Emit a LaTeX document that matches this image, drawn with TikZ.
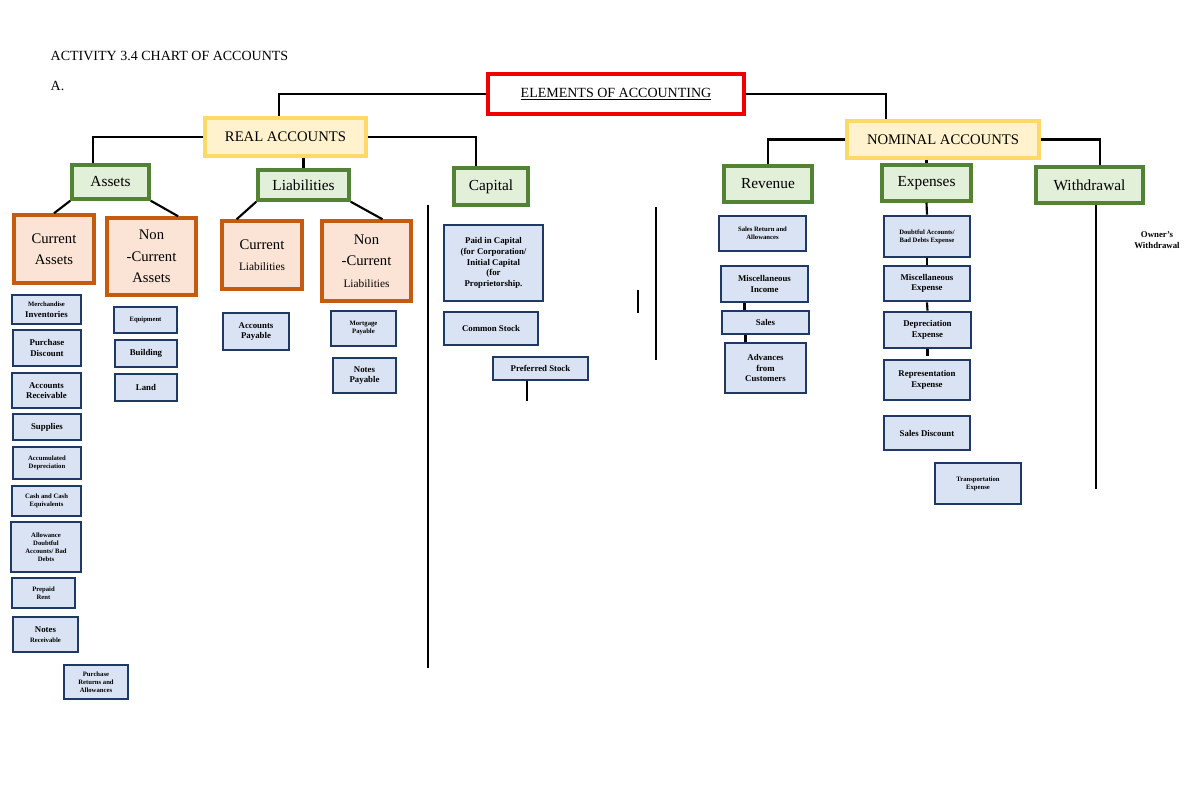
\documentclass[tikz,border=0pt]{standalone}
\usepackage{fontspec}
\setmainfont{Liberation Serif}
\definecolor{bbd}{HTML}{1F3864}\definecolor{bbf}{HTML}{DAE3F3}
\definecolor{gbd}{HTML}{548235}\definecolor{gbf}{HTML}{E2EFD9}
\definecolor{obd}{HTML}{C55A11}\definecolor{obf}{HTML}{FBE4D5}
\definecolor{ybd}{HTML}{FFD966}\definecolor{ybf}{HTML}{FFF2CC}
\begin{document}
\begin{tikzpicture}[x=0.75pt,y=-0.75pt,
  ln/.style={line width=1.6pt},
  redb/.style={draw=red!95!black,line width=2.6pt,fill=white,font=\fontsize{10.5}{12}\selectfont},
  yelb/.style={draw=ybd,line width=2.6pt,fill=ybf,font=\fontsize{11}{13}\selectfont},
  grnb/.style={draw=gbd,line width=2.6pt,fill=gbf,font=\fontsize{11.5}{13}\selectfont},
  orb/.style={draw=obd,line width=2.6pt,fill=obf,font=\fontsize{11}{16}\selectfont,align=center},
  blb/.style={draw=bbd,line width=2pt,fill=bbf,font=\fontsize{6.6}{8}\selectfont\bfseries,align=center,inner sep=1pt},
  sml/.style={blb,font=\fontsize{5}{6}\selectfont\bfseries}]
\useasboundingbox (0,0) rectangle (1200,785);
\newcommand\bx[7]{\pgfmathsetmacro\bw{(#4-#2)*0.75}\pgfmathsetmacro\bh{(#5-#3)*0.75}%
  \node[#6,minimum width=\bw pt,minimum height=\bh pt] (#1) at ({(#2+#4)/2},{(#3+#5)/2}) {#7};}
\node[anchor=west,font=\fontsize{10.5}{12}\selectfont] (t) at (46,56) {ACTIVITY 3.4 CHART OF ACCOUNTS};
\node[anchor=west,font=\fontsize{10.5}{12}\selectfont] (a) at (46,86) {A.};
\bx{E}{488}{74}{744}{114}{redb}{\underline{ELEMENTS OF ACCOUNTING}}
\bx{R}{205}{118}{366}{156}{yelb}{REAL ACCOUNTS}
\bx{N}{847}{121}{1039}{158}{yelb}{NOMINAL ACCOUNTS}
\bx{As}{72}{165}{149}{199}{grnb}{Assets}
\bx{Li}{258}{170}{349}{200}{grnb}{Liabilities}
\bx{Ca}{454}{168}{528}{205}{grnb}{Capital}
\bx{Re}{724}{166}{812}{202}{grnb}{Revenue}
\bx{Ex}{882}{165}{971}{201}{grnb}{Expenses}
\bx{Wi}{1036}{167}{1143}{203}{grnb}{Withdrawal}
\bx{CA}{14}{215}{94}{283}{orb}{Current\\Assets}
\bx{NA}{107}{218}{196}{295}{orb}{Non\\-Current\\Assets}
\bx{CL}{222}{221}{302}{289}{orb}{Current\\{\fontsize{8.5}{16}\selectfont Liabilities}}
\bx{NL}{322}{221}{411}{301}{orb}{Non\\-Current\\{\fontsize{8.5}{16}\selectfont Liabilities}}
\bx{b1}{12}{295}{81}{324}{blb}{{\fontsize{5}{6}\selectfont Merchandise}\\Inventories}
\bx{b2}{13}{330}{81}{366}{blb}{Purchase\\Discount}
\bx{b3}{12}{373}{81}{408}{blb}{Accounts\\Receivable}
\bx{b4}{13}{414}{81}{440}{blb}{Supplies}
\bx{b5}{13}{447}{81}{479}{sml}{Accumulated\\Depreciation}
\bx{b6}{12}{486}{81}{516}{sml}{Cash and Cash\\Equivalents}
\bx{b7}{11}{522}{81}{572}{sml}{Allowance\\Doubtful\\Accounts/ Bad\\Debts}
\bx{b8}{12}{578}{75}{608}{sml}{Prepaid\\Rent}
\bx{b9}{13}{617}{78}{652}{blb}{Notes\\{\fontsize{5}{6}\selectfont Receivable}}
\bx{b10}{64}{665}{128}{699}{sml}{Purchase\\Returns and\\Allowances}
\bx{e1}{114}{307}{177}{333}{sml}{Equipment}
\bx{e2}{115}{340}{177}{367}{blb}{Building}
\bx{e3}{115}{374}{177}{401}{blb}{Land}
\bx{l1}{223}{313}{289}{350}{blb}{Accounts\\Payable}
\bx{l2}{331}{311}{396}{346}{sml}{Mortgage\\Payable}
\bx{l3}{333}{358}{396}{393}{blb}{Notes\\Payable}
\bx{c1}{444}{225}{543}{301}{blb}{Paid in Capital\\(for Corporation/\\Initial Capital\\(for\\Proprietorship.}
\bx{c2}{444}{312}{538}{345}{blb}{Common Stock}
\bx{c3}{493}{357}{588}{380}{blb}{Preferred Stock}
\bx{r1}{719}{216}{806}{251}{sml}{Sales Return and\\Allowances}
\bx{r2}{721}{266}{808}{302}{blb}{Miscellaneous\\Income}
\bx{r3}{722}{311}{809}{334}{blb}{Sales}
\bx{r4}{725}{343}{806}{393}{blb}{Advances\\from\\Customers}
\bx{x1}{884}{216}{970}{257}{sml}{Doubtful Accounts/\\Bad Debts Expense}
\bx{x2}{884}{266}{970}{301}{blb}{Miscellaneous\\Expense}
\bx{x3}{884}{312}{971}{348}{blb}{Depreciation\\Expense}
\bx{x4}{884}{360}{970}{400}{blb}{Representation\\Expense}
\bx{x5}{884}{416}{970}{450}{blb}{Sales Discount}
\bx{x6}{935}{463}{1021}{504}{sml}{Transportation\\Expense}
\node[font=\fontsize{6.6}{8}\selectfont\bfseries,align=center] (ow) at (1157,240) {Owner's\\Withdrawal};
\draw[ln] (E.west) -| ([xshift=-5pt]R.north);
\draw[ln] (E.east) -| ([xshift=-43pt]N.north);
\draw[ln] (R.west) -| ([xshift=-13pt]As.north);
\draw[ln] (R.east) -| ([xshift=-11pt]Ca.north);
\draw[ln] (R.south-|Li.north) -- (Li.north);
\draw[ln] (N.west) -| (Re.north);
\draw[ln] (N.east) -| ([xshift=8pt]Wi.north);
\draw[ln] (N.south-|Ex.north) -- (Ex.north);
\draw[ln] (As.south west) -- (CA.north);
\draw[ln] (As.south east) -- ([xshift=20pt]NA.north);
\draw[ln] (Li.south west) -- ([xshift=-19pt]CL.north);
\draw[ln] (Li.south east) -- ([xshift=12pt]NL.north);
\draw[ln] ([xshift=-15pt]r2.south) -- ([xshift=-15pt]r2.south|-r3.north);
\draw[ln] ([xshift=-15pt]r3.south) -- ([xshift=-15pt]r3.south|-r4.north);
\draw[ln] (Ex.south) -- (x1.north);
\draw[ln] (x1.south) -- (x2.north);
\draw[ln] (x2.south) -- (x3.north);
\draw[ln] (x3.south) -- ++(0,7);
\draw[ln] ([xshift=-10pt]c3.south) -- ++(0,20);
\draw[ln] ([xshift=5pt]Wi.south) -- ++(0,284);
\draw[ln] (428,205) -- (428,668);
\draw[ln] (656,207) -- (656,360);
\draw[ln] (638,290) -- (638,313);
\end{tikzpicture}
\end{document}
